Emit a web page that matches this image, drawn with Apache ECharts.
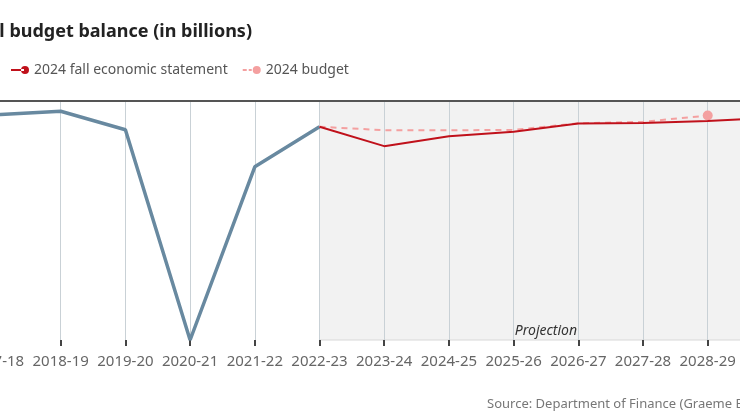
<!DOCTYPE html>
<html>
<head>
<meta charset="utf-8">
<script src="https://cdn.jsdelivr.net/npm/echarts@6/dist/echarts.min.js"></script>
<style>
  html, body { margin: 0; padding: 0; background: #fff; overflow: hidden; width: 740px; height: 416px; }
  #chart { position: absolute; left: -124px; top: 0; width: 960px; height: 416px; }
</style>
</head>
<body>
<div id="chart"></div>
<script>
const years = ['2017-18', '2018-19', '2019-20', '2020-21', '2021-22', '2022-23',
  '2023-24', '2024-25', '2025-26', '2026-27', '2027-28', '2028-29', '2029-30']
// billions of dollars
const actual = [-19.0, -14.0, -39.4, -327.7, -90.2, -35.3, null, null, null, null, null, null, null]
const fallStatement = [null, null, null, null, null, -35.3, -61.9, -48.3, -42.2, -31.0, -30.3, -27.4, -23.0]
const budget2024 = [null, null, null, null, null, -35.3, -40.0, -40.2, -39.6, -30.5, -28.5, -20.0, null]

const chart = echarts.init(document.getElementById('chart'))
const FONT = '"Noto Sans", sans-serif'
const lastIdx = arr => arr.reduce((m, v, i) => v == null ? m : i, -1)

const dotSize = arr => (v, p) => p.dataIndex === lastIdx(arr) ? 10 : 0

chart.setOption({
  animation: false,
  textStyle: { fontFamily: FONT },
  grid: { left: 120, right: 63.6, top: 101, bottom: 76 },
  legend: {
    left: 130, top: 58,
    itemWidth: 18, itemHeight: 9, itemGap: 15,
    textStyle: { color: '#555', fontSize: 14, fontFamily: FONT },
    data: [
      { name: '2024 fall economic statement', icon: 'path://M0,4 L13,4 L13,6 L0,6 Z M10,5 a4,4 0 1,0 8,0 a4,4 0 1,0 -8,0 Z' },
      { name: '2024 budget', icon: 'path://M0,4 L4,4 L4,6 L0,6 Z M6,4 L9,4 L9,6 L6,6 Z M10,5 a4,4 0 1,0 8,0 a4,4 0 1,0 -8,0 Z' }
    ]
  },
  graphic: [
    {
      type: 'text', right: 960 - 376, top: 23,
      style: { text: 'Federal budget balance (in billions)', fill: '#222', font: 'bold 18px "Noto Sans", sans-serif' }
    },
    {
      type: 'text', left: 487 + 124, top: 398,
      style: { text: 'Source: Department of Finance (Graeme Bruce/CBC)', fill: '#777', font: '13px "Noto Sans", sans-serif' }
    }
  ],
  xAxis: {
    type: 'category',
    data: years,
    boundaryGap: false,
    axisLine: { show: false, onZero: false },
    axisTick: { show: true, interval: 0, length: 6, lineStyle: { color: '#444', width: 2 } },
    axisLabel: { interval: 0, color: '#666', fontSize: 15, margin: 14 },
    splitLine: { show: true, interval: 0, lineStyle: { color: '#c9d1d6', width: 1 } }
  },
  yAxis: {
    type: 'value',
    min: -327.7, max: 0,
    axisLabel: { show: false },
    axisLine: { show: false },
    axisTick: { show: false },
    splitLine: { show: false }
  },
  series: [
    {
      name: 'Actual',
      type: 'line',
      data: actual,
      showSymbol: false,
      z: 2,
      lineStyle: { color: '#6889a0', width: 3.5 },
      itemStyle: { color: '#6889a0' },
      markArea: {
        silent: true,
        z: -1,
        itemStyle: { color: '#f2f2f2', borderColor: '#d8d8d8', borderWidth: 1 },
        label: {
          show: true, position: 'insideBottom', distance: 2,
          color: '#333', fontSize: 14, fontStyle: 'italic', fontFamily: FONT
        },
        data: [[{ xAxis: '2022-23', name: 'Projection' }, { xAxis: '2029-30' }]]
      },
      markLine: {
        silent: true,
        symbol: 'none',
        label: { show: false },
        lineStyle: { color: '#555', width: 2, type: 'solid' },
        data: [{ yAxis: 0 }]
      }
    },
    {
      name: '2024 budget',
      type: 'line',
      data: budget2024,
      showAllSymbol: true,
      symbol: 'circle',
      symbolSize: dotSize(budget2024),
      z: 3,
      lineStyle: { color: '#f4a0a0', width: 2, type: [6, 5] },
      itemStyle: { color: '#f4a0a0' }
    },
    {
      name: '2024 fall economic statement',
      type: 'line',
      data: fallStatement,
      showAllSymbol: true,
      symbol: 'circle',
      symbolSize: dotSize(fallStatement),
      z: 4,
      lineStyle: { color: '#c0111b', width: 2 },
      itemStyle: { color: '#c0111b' }
    }
  ]
})
</script>
</body>
</html>
